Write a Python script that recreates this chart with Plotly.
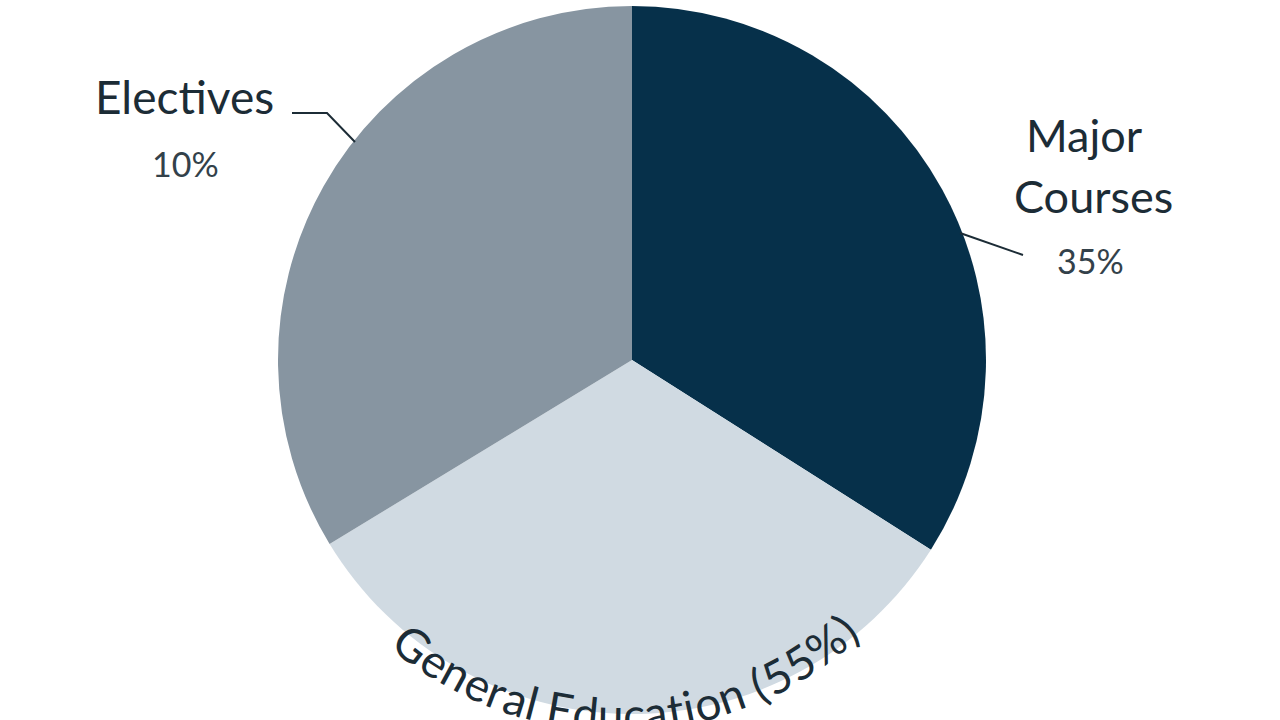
import math
import plotly.graph_objects as go

# ---- data ----
categories = ["Major Courses", "General Education", "Electives"]
slice_share = [34.0, 32.3, 33.7]          # visual slice sizes
label_pct = [35, 55, 10]                  # percentages printed on the chart
colors = ["#06304a", "#d0dae2", "#8795a1"]

W, H = 1280, 720
CX, CY, R = 632, 360, 354

def px(x):
    return x / W

def py(y):
    return 1 - y / H

fig = go.Figure(go.Pie(
    labels=categories,
    values=slice_share,
    sort=False,
    direction="clockwise",
    rotation=0,
    marker=dict(colors=colors, line=dict(width=0)),
    textinfo="none",
    hoverinfo="label",
    showlegend=False,
    domain=dict(x=[px(CX - R), px(CX + R)], y=[py(CY + R), py(CY - R)]),
))

TXT = "#1c2c36"
SUB = "#33414a"
FONT = "Lato"

annotations = []
# Electives
annotations.append(dict(text=categories[2], x=px(184), y=py(97), xref="paper", yref="paper",
                        showarrow=False, xanchor="center", yanchor="middle",
                        font=dict(family=FONT, size=46, color=TXT)))
annotations.append(dict(text=f"{label_pct[2]}%", x=px(185), y=py(164), xref="paper", yref="paper",
                        showarrow=False, xanchor="center", yanchor="middle",
                        font=dict(family=FONT, size=34, color=SUB)))
# Major Courses
maj_words = categories[0].split(" ")
annotations.append(dict(text=maj_words[0], x=px(1084), y=py(135), xref="paper", yref="paper",
                        showarrow=False, xanchor="center", yanchor="middle",
                        font=dict(family=FONT, size=45, color=TXT)))
annotations.append(dict(text=maj_words[1], x=px(1093), y=py(196), xref="paper", yref="paper",
                        showarrow=False, xanchor="center", yanchor="middle",
                        font=dict(family=FONT, size=45, color=TXT)))
annotations.append(dict(text=f"{label_pct[0]}%", x=px(1090), y=py(260), xref="paper", yref="paper",
                        showarrow=False, xanchor="center", yanchor="middle",
                        font=dict(family=FONT, size=34, color=SUB)))

# Curved label for General Education along the bottom arc
arc_text = f"{categories[1]} ({label_pct[1]}%)"
widths = {"G": .705, "e": .506, "n": .533, "r": .378, "a": .477, "l": .24, " ": .193,
          "E": .572, "d": .545, "u": .533, "c": .457, "t": .355, "i": .24, "o": .547,
          "(": .316, "5": .58, "%": .771, ")": .316}
FS = 46
TRACK = 0.3
ACX, ACY, AR = 619, 376, 338
mid_angle = math.radians(1.5)
adv = [widths.get(ch, .5) * FS + TRACK for ch in arc_text]
total = sum(adv)
s = 0.0
for ch, w in zip(arc_text, adv):
    center_s = s + w / 2 - total / 2
    s += w
    if ch == " ":
        continue
    th = mid_angle + center_s / AR
    x = ACX + AR * math.sin(th)
    y = ACY + AR * math.cos(th)
    annotations.append(dict(text=ch, x=px(x), y=py(y), xref="paper", yref="paper",
                            showarrow=False, xanchor="center", yanchor="middle",
                            textangle=-math.degrees(th),
                            font=dict(family=FONT, size=FS, color=TXT)))

shapes = [
    dict(type="path", xref="paper", yref="paper",
         path=f"M {px(292)},{py(113)} L {px(327)},{py(113)} L {px(355)},{py(142)}",
         line=dict(color=TXT, width=2)),
    dict(type="line", xref="paper", yref="paper",
         x0=px(960), y0=py(233), x1=px(1023), y1=py(255),
         line=dict(color=TXT, width=2)),
]

fig.update_layout(
    width=W, height=H,
    margin=dict(l=0, r=0, t=0, b=0),
    paper_bgcolor="white", plot_bgcolor="white",
    annotations=annotations, shapes=shapes,
)

fig.write_html("out.html",
               config={"displayModeBar": False},
               post_script="document.body.style.margin='0';document.body.style.overflow='hidden';")
